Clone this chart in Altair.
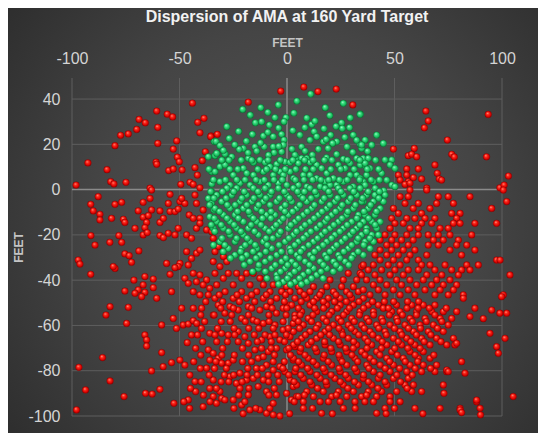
import altair as alt
import pandas as pd

TITLE = "Dispersion of AMA at 160 Yard Target"
AXIS_TITLE = "FEET"
x_ticks = [-100, -50, 0, 50, 100]
y_ticks = [-100, -80, -60, -40, -20, 0, 20, 40]

# ---------------- green shots (feet) ----------------
green_top = [
    (-36.6, 14.5), (-35, 7.9), (-35, 2.5), (-33.8, 21.2), (-33.5, 15),
    (11, 42.2), (-12.2, 36.2), (-4, 37.4), (26.2, 38.1), (34, 33.4), (-5.6, 31.8), (-0.5, 31.8),
    (-1.4, 30), (-14.7, 29.5), (-11.8, 30), (-8.2, 28.5), (11.5, 28.8), (13, 30.3), (25.4, 29.5),
    (25.7, 27), (-28, 27.8), (-16.1, 24.4), (-11, 23.7), (-6.4, 23.4), (-2.5, 24.4), (-1.4, 21.9),
    (-1.7, 19.7), (6, 24.1), (12.6, 25.6), (13.8, 23.4), (10.7, 21.9), (20.3, 24.1), (23.1, 21.2),
    (26.9, 23.1), (30.8, 24.1), (34, 20), (-33, 21.2), (-31.2, 19.4), (-20.3, 18.2), (-22.2, 17.8),
    (-14.9, 18.9), (-14.1, 17), (-10.6, 18.9), (-6.4, 18.9), (-6, 16.3), (-2.5, 16.7), (6.8, 18.9),
    (8.4, 17), (4.5, 14.1), (6.8, 13.8), (9.2, 13.8), (14.6, 17.9), (16.9, 21.2), (21.2, 20.4),
    (23.1, 15.6), (26.2, 13.5), (30.6, 16.5), (34.7, 18.2), (-32.7, 16), (-28.8, 15.7), (-25.7, 14.5),
    (-18, 13.8), (-15.6, 12), (-12.6, 13.1), (-10.2, 12), (-7.9, 10.1), (-4.8, 11.2), (-3.2, 7.9),
    (-0.9, 12.3), (1.4, 12), (3.7, 15.3), (5.3, 11.6), (10.7, 12), (13.8, 10.9), (16.1, 9.4),
    (18.5, 7.2), (21.6, 5), (23.9, 10.9), (27, 9.4), (29.3, 11.6), (32.4, 13.8), (35.5, 10.9),
    (-33.5, 7.9), (-31.2, 10.1), (-28.8, 10.9), (-25, 6.4), (-20.3, 9.4), (-18.7, 7.2), (-15.6, 6.4),
    (-11, 7.9), (-6.4, 6.4), (-1.7, 6.4), (1.4, 7.9), (3, 5), (7.6, 6.4), (10.7, 6.4), (13.8, 5),
    (17.7, 3.5), (20, 2), (26.2, 3.5), (29.3, 6.4), (32.4, 6.4), (35.5, 3.5), (-31.2, 3.5),
    (-26.5, 2), (-21.9, 2.8), (-17.2, 2), (-12.6, 3.5), (-8.7, 2), (-4, 2.8), (-0.1, 2), (5.3, 2),
    (9.2, 1.3), (15.4, 1.3), (23.1, 2), (30.8, 1.3),
]
green_top_fill = [
    (-29.6, 17.3), (-24.3, 19.8), (-18.1, 16.2), (-12.3, 20.6), (-8.6, 15.2), (-3.8, 19.1), (2.3, 17.9),
    (11.8, 15.3), (18.4, 14.1), (19.1, 18.2), (27.9, 18.9), (32.4, 21.8), (37.5, 16.9),
    (-26.9, 22.6), (-22.5, 25.7), (-18.9, 21.4), (-8.9, 25.3), (-3.9, 27.2), (2.7, 26.1), (8.3, 27.4),
    (17.2, 26.9), (22.8, 27.9), (29.1, 27.4), (18.2, 22.2),
    (-17.1, 32.9), (-8.9, 34.1), (3.2, 33.8), (9.2, 31.6), (19.9, 32.7), (29.4, 31.7), (4.6, 39.1),
    (17.8, 36.2), (-20.6, 35.4),
]
green_right = [
    (34, 33.2), (41.7, 24.1), (36.3, 21.9), (34.7, 19.7), (39.4, 19.7), (44.8, 20.4), (35.5, 13.8),
    (37.8, 13.8), (34, 10.9), (36.3, 11.6), (38.6, 9.4), (45.6, 13.1), (48.7, 13.1), (47.9, 10.9),
    (50.2, 9.4), (44, 7.2), (37, 6.4), (34, 5), (40.2, 3.5), (36.3, 2), (46.4, 4.2), (48.7, 2),
    (50.2, 1.3), (41, 0.6), (45, -0.5), (37, -2.4), (40.9, -2.4), (45.6, -2.4), (35.5, -5.3),
    (40.2, -5.3), (44.8, -5.3), (37.8, -8.3), (43.3, -8.3), (36.3, -11.2), (40.9, -11.2),
    (39.4, -14.2), (43.3, -14.2), (37, -17.1), (41.7, -17.1), (39.4, -20), (42.5, -20),
    (36.3, -23), (40.2, -23), (38.6, -26), (35.5, -28.9),
    (-36.6, -3.9), (-35.1, -6.1), (-35.9, -12), (-34.3, -17.1), (-35.1, -0.9), (-34, -9),
]
green_rows = [
    (0.6, [-28, -23.4, -15.6, -10.2, -4, 3, 10.7, 17.7, 23.9, 29.3, 34]),
    (-2.4, [-32.7, -25.7, -18.8, -12.6, -7.9, -0.2, 6, 13.8, 20, 26.2, 32.4]),
    (-5.3, [-30.4, -21.9, -16.4, -11, -4.8, 2.2, 9.2, 16.1, 22.3, 28.5, 34.7]),
    (-8.3, [-33.5, -26.5, -20.3, -14.1, -2.5, 4.5, 11.5, 18.5, 24.7, 30.9]),
    (-11.2, [-29.6, -24.2, -17.2, -9.5, -5.6, 0.6, 7.6, 14.6, 20.8, 27.7, 33.2]),
    (-14.2, [-32.7, -26.5, -20.3, -14.1, -3.3, 3.7, 10.7, 17.7, 23.9, 30.1, 35.5]),
    (-17.1, [-29.6, -23.4, -18, -10.2, -6.4, 0.6, 6.8, 13.8, 20, 26.2, 32.4]),
    (-20, [-26.5, -20.3, -13.3, -4, 3, 9.2, 16.1, 22.3, 29.3, 34.7]),
    (-23, [-31.2, -24.2, -17.2, -11, -0.9, 5.3, 12.3, 18.5, 25.4, 32.4]),
    (-26, [-27.3, -21.1, -14.1, -7.1, 1.4, 7.6, 14.6, 21.6, 28.5]),
    (-28.9, [-24.2, -18.8, -12.6, -4.8, 4.5, 10.7, 17.7, 23.9, 30.9]),
    (-31.8, [-17.2, -10.2, -2.5, 2.2, 8.4, 15.4, 21.6, 27]),
    (-34.8, [-13.3, -7.1, -0.9, 5.3, 12.3, 18.5, 24.7]),
    (-37.7, [-4.8, 1.4, 7.6, 13.8]),
    (-40.7, [-1.7, 3.7, 9.2]),
]
green_fill_rows = [
    (4.3, [-34.2, -28.6, -23.4, -19.5, -14.4, -10.5, -6.1, -2.2, 3.9, 7.9, 11.9, 15.8, 19.4, 24.4, 28, 33.8, 39.1, 43]),
    (9, [-36.3, -26.6, -22.9, -13.6, -9.5, -5.3, -0.8, 4.1, 8.6, 12.2, 20.4, 25, 31.2, 37.3, 42.6]),
    (13, [-30.3, -27, -21.3, -16.4, -8.8, -3.1, 2.7, 8.2, 12.1, 17.4, 20.9, 28.1, 33.9, 41.2]),
    (-0.9, [-35.5, -30, -24.8, -19.9, -13.5, -7.2, -1.3, 4.9, 8.1, 13, 19.4, 25.1, 31, 37.8, 43]),
    (-3.8, [-34, -28.3, -21, -15.4, -9.8, -3.5, 1.2, 7.4, 11.2, 17.3, 23.5, 29.6, 35.2, 42.7]),
    (-6.8, [-36, -27.8, -24.1, -18.7, -13.2, -7.9, -0.8, 5.9, 12.8, 19.9, 25.7, 31.8, 38.9]),
    (-9.7, [-31.4, -23, -17.8, -11.8, -7.4, -1, 2.6, 9.4, 16.3, 22.6, 28.3, 35.8, 41.6]),
    (-12.7, [-33.8, -27.9, -22.6, -15.6, -11.4, -7.5, -1.8, 5.4, 12.6, 18.8, 25.6, 32.5, 38]),
    (-15.6, [-35.2, -30.6, -24.6, -16.7, -12.1, -5, 1.8, 8.4, 15.4, 21.8, 28, 33.9, 41]),
    (-18.5, [-33.6, -27.1, -21.4, -15.1, -8.3, -3, 4.4, 11.1, 17.7, 24.6, 30.7, 36.9]),
    (-21.5, [-30.2, -23.4, -18.5, -9.7, -6.6, 0.9, 7.6, 14.2, 20.7, 27.1, 33.1, 38.5]),
    (-24.5, [-34.2, -28.9, -19.4, -14.8, -9.2, -3.7, 3.6, 10.1, 16.8, 23.1, 30.1, 35.7]),
    (-27.4, [-29.7, -21.6, -15.8, -9.9, -2.6, 1.8, 6.3, 12.8, 19.9, 26.4, 33.1]),
    (-30.3, [-26.3, -20.9, -14.4, -7.7, -0.5, 5.7, 12, 18.6, 24.6, 30]),
    (-33.3, [-19.9, -13.1, -5.4, 0.3, 4, 10.4, 16.9, 22.8, 28.7]),
    (-36.2, [-16, -10.1, -3, 3.5, 10, 15.8, 21.5]),
    (-39.2, [-9.3, -4.6, 0.2, 5.8, 11.4, 16.8]),
    (-41.8, [-3.9, 1.6, 6.7]),
]

# ---------------- red shots (feet) ----------------
red_upper = [
    (-44, 38.2), (-60.6, 34.7), (-55.7, 33.3), (-53.2, 32.1), (-68.8, 31), (-65.9, 29.5), (-38.6, 31.5),
    (-41.5, 29.7), (-60.1, 27.5), (-69.9, 26.6), (-73.8, 24.6), (-77.4, 24), (-40.5, 25.1),
    (-35.3, 23.7), (-80, 19.4), (-60.1, 20.4), (-51.3, 21.5), (-52.9, 17.9), (-38, 16.7), (-51, 14.3),
    (-50.1, 12.3), (-39.4, 12.8), (-60.9, 12.1), (-60.6, 11.2), (-92.6, 11.8), (-83.7, 8.8),
    (-42.8, 9.7), (-55, 8.4), (-52.9, 9.1), (-48.8, 8.7), (-41.7, 6.4), (-82, 3.5), (-80.5, 2.5),
    (-74.9, 3.2), (-98.1, 2), (-49.4, 2.3), (-45.1, 3.2), (-43.6, 2.3), (-40.5, 0.8), (-63.7, 0.6),
    (-2.9, 43.5), (7.8, 45.3), (14.4, 43.3), (22.9, 44.4), (-18, 38.6), (30.6, 37.4), (-35.5, 23.4),
    (-32.4, 24.4),
    (64.6, 34.7), (65.7, 30.3), (63.9, 27.3), (93.6, 33.2), (74.6, 21.9), (49.5, 17.9), (59.2, 18.2),
    (56.4, 15), (58, 15.6), (60.3, 14.5), (76.6, 15.6), (77.8, 14.4), (92.8, 14.5), (55.7, 9.1),
    (61.1, 9.1), (68.8, 10.9), (69.9, 7.2), (70.8, 4.7), (71.9, 4.2), (51.8, 6.4), (55.7, 6.4),
    (52.6, 4.2), (56.4, 3.5), (58.8, 5.3), (62.6, 4.7), (54.9, 2.3), (57.2, 2.8), (65, 0.6),
    (99, 0.8), (103, 6), (101, 2),
]
red_left = [
    (-63, -0.2), (-63.7, -3.9), (-66.9, -5.6), (-87.8, -3.1), (-91.3, -6.5), (-90.1, -9.4), (-87, -10.9),
    (-87, -13.4), (-80, -6.5), (-76.9, -5.6), (-81.6, -12.7), (-76.1, -13.1), (-75.4, -14.5),
    (-69.2, -9.4), (-66.9, -12.2), (-63, -9), (-64.5, -11.5), (-65.3, -14.5), (-66.1, -16.8),
    (-66.9, -20), (-65, -19), (-70.7, -17.1), (-59.1, -9.4), (-59.1, -14.5), (-57.5, -12.7),
    (-55.2, -6.1), (-54.4, -9.7), (-52.1, -9.7), (-50.6, -8.6), (-49.8, -5.3), (-47.5, -6.1),
    (-54.4, -2.1), (-49, -3.9), (-42.8, -2.4), (-42.1, -6.1), (-45.5, -11.2), (-43.6, -12.7),
    (-40.5, -12.7), (-39, -9), (-42.1, -17.1), (-40.5, -14.9), (-37.4, -17.8), (-50.6, -17.1),
    (-46.7, -20), (-44.4, -21.5), (-59.1, -20.3), (-57.5, -21.2), (-55.2, -19.3), (-52.1, -20),
    (-91.2, -20.3), (-89.3, -24.5), (-82.4, -23.3), (-78.2, -20.3), (-76.9, -23.3), (-68.9, -27.1),
    (-75.4, -28.4), (-73.4, -29.2), (-72.3, -32.1), (-97.1, -31.1), (-96.3, -32.9), (-91.3, -37.4),
    (-80, -34.8), (-80.8, -34), (-46.7, -27.4), (-42.1, -28.1), (-40.5, -26.7), (-44.4, -30.4),
    (-49.8, -32.6), (-50.6, -34), (-45.9, -33.3), (-56, -32.6), (-54.4, -37.4), (-52.1, -34.5),
    (-43.6, -37), (-40.5, -37.7), (-37.4, -39.9), (-47.5, -39.2), (-45.9, -41.4), (-42.1, -40.7),
    (-39, -42.1), (-35.9, -43.6), (-43.6, -45.1), (-40.5, -46.5), (-36.6, -46.5), (-66.1, -38.4),
    (-62.2, -39.5), (-71.2, -40), (-66.9, -42.1), (-69.2, -44.3), (-70.7, -45.8), (-66.1, -45.4),
    (-62.2, -43.3), (-75.4, -44.8), (-67.6, -47.3), (-60.6, -48), (-53.7, -45.1),
]
red_center_rows = [
    (-18.6, [-35]), (-21.5, [-34.3]), (-25.2, [-31.9, -28.8]), (-27.4, [-33.5]), (-29.6, [-29.6]),
    (-31.8, [-34.3, -28]), (-34, [-31.2, 34.7]), (-37, [-33.5, -27.3, -23.4, -18.8, -15.7, 28.5, 34]),
    (-39.2, [-29.6, -21.1, -12.6, -9.5]), (-39.9, [20, 26.2, 32.4]),
    (-42.1, [-32.7, -25, -17.2, -11, -6.4]), (-42.9, [-0.2, 5.3, 12.3, 18.5, 25.4, 30.9]),
    (-45.1, [-28.8, -21.1, -14.1, -7.9, -2.5, 1.4, 6.1, 10.7, 16.1, 21.6, 27.7, 33.2]),
    (-48, [-33.5, -25, -18.8, -11, -4.8, 3.7, 9.2, 13.8, 19.2, 24.7, 30.1, 35.5]),
]
red_right_rows = [
    (-0.2, [57.2, 65, 100.6]), (-3.1, [52.6, 56.4, 70.4, 75, 85.1]), (-5.3, [102.2]),
    (-6.1, [54.9, 61.1, 69.6, 77.4]), (-8.3, [49.5, 58.7, 66.5, 95.2]), (-10.5, [51.8, 62.6, 76.6, 80.5]),
    (-12.7, [48.7, 55.7, 59.5, 64.2, 68.8, 78.9]), (-14.9, [50.2, 54.1, 62.6, 67.3, 77.4, 80.5, 87.4, 97.5]),
    (-17.1, [47.9, 57.2, 61.1, 71.2, 75]), (-20, [45.6, 50.2, 55.7, 61.1, 65.7, 70.4, 75.8, 85.9]),
    (-22.3, [43.3, 48.7, 53.3, 58.7, 68.1, 72.7, 79.7]), (-24.5, [46.4, 51, 56.4, 65.7, 70.4, 78.9, 83.6]),
    (-26.7, [43.3, 48.7, 54.1, 59.5, 75.8, 87.4]), (-28.9, [40.9, 46.4, 51.8, 57.2, 65, 81.2]),
    (-31.1, [43.3, 49.5, 55.7, 61.1, 97.5, 99.1]), (-33.3, [35.5, 40.2, 47.1, 52.6, 62.6, 66.5, 73.5, 83.6, 89]),
    (-35.5, [37.8, 44, 50.2, 56.4, 61.1, 68.8, 76.6, 81.2, 85.1]), (-37.7, [34.7, 40.9, 47.9, 54.1, 65, 72, 79.7, 103.7]),
    (-39.9, [37, 43.3, 51, 57.2, 63.4, 69.6, 75.8]), (-42.1, [40.2, 46.4, 53.3, 60.3, 67.3, 72.7, 78.9]),
    (-44.3, [35.5, 42.5, 49.5, 56.4, 64.2, 71.2, 77.4]), (-46.5, [38.6, 45.6, 52.6, 59.5, 68.8, 75, 82, 100.6]),
]
red_lower_left = [
    (-82.3, -51.7), (-73.8, -52), (-84.2, -55.4), (-74.6, -59.1), (-66.1, -64.2), (-65.3, -66.4),
    (-65.3, -69.1), (-58.3, -59.8), (-58.3, -72), (-85.8, -74.2), (-96.8, -78.5), (-82.3, -84.5),
    (-93.7, -88.5), (-75.8, -91.4), (-97.9, -97.3), (-63, -80.1), (-57.6, -78.2), (-53.7, -76.4),
    (-49.8, -75.3), (-47.5, -77.5), (-65.8, -90), (-62.7, -90.3), (-59.1, -88.2), (-52.6, -94.4),
    (-45.9, -92.9), (-42.8, -84.8), (-42.5, -89.2), (-51.4, -61.3), (-48.3, -59.8), (-45.9, -59.4),
    (-43.6, -57.9), (-42, -59.1), (-52.9, -56.9), (-49, -52.4), (-43.6, -52.4), (-39.7, -52.4),
    (-34.3, -55.4), (-44.4, -64.2), (-46.4, -67.6), (-39, -95.9), (-32.8, -94.4), (-30.4, -92.2),
    (-28.9, -92.9), (-35.9, -63.5), (-33.5, -64.2), (-30.4, -63.5), (-27.3, -64.2), (-36.6, -70.8),
    (-34.3, -72.3), (-35.9, -75.3), (-32, -74.5), (-37.4, -78.9), (-34.3, -84.1), (-35.9, -87.8),
    (-31.2, -89.2), (-34.3, -91.4), (-32, -51), (-28.9, -54.6), (-26.5, -51.7), (-22.7, -53.2),
    (-21.1, -56.9), (-18, -51.7), (-22.7, -62.7), (-19.6, -65), (-18, -67.9), (-14.9, -70.8),
    (-13.4, -74.5), (-11, -73.8), (-8.7, -71.6), (-9.5, -77.5), (-14.2, -79), (-15.7, -83.4),
    (-18.8, -84.1), (-21.9, -81.1), (-23.5, -85.6), (-26.6, -82.6), (-27.3, -76.7), (-25, -75.3),
    (-30.4, -76.7), (-21.9, -87.8), (-18, -90.7), (-25, -92.9), (-21.1, -95.1), (-17.3, -97.3),
    (-12.6, -97.3), (-9.5, -98.8), (-6.4, -99.5), (-3.3, -100), (-8, -96.6), (-6.4, -94.4),
    (-4.9, -90.7), (-9.5, -89.2), (-13.4, -87), (-11, -84.1), (-8.7, -81.9), (-6.4, -79.7),
    (-3.3, -78.2), (-1, -80.4), (1.4, -84.1), (2.9, -87), (-0.2, -90), (2.1, -92.9), (4.5, -91.4),
    (-12.6, -53.2), (-9.5, -51.7), (-4.9, -54.6), (-1.8, -52.4), (1.4, -51), (3.7, -55.4),
    (-15.7, -57.6), (-11, -59.1), (-5.6, -59.8), (-1.8, -62), (2.9, -59.1), (1.4, -65), (-3.3, -66.4),
    (-8, -65), (-11.8, -66.4), (-4.9, -70.1), (-0.2, -70.8), (3.7, -69.4), (2.9, -75.3),
]
red_lower_rows = [
    (-51, [2.2, 10.7, 18.5, 24.7, 30.9, 37.8, 42.5, 51, 58, 63.4, 68.8]),
    (-53.9, [6.8, 13.8, 20.8, 27.8, 34, 40.2, 48.7, 52.6, 60.3, 67.3, 72.7, 78.9]),
    (-56.9, [3.7, 9.9, 16.9, 23.9, 30.1, 37.1, 44, 51, 57.2, 64.2, 71.2, 76.6]),
    (-59.8, [7.6, 14.6, 21.6, 28.5, 34.7, 41.7, 47.9, 54.9, 61.9, 68.1, 75]),
    (-62.7, [3, 10.7, 17.7, 25.4, 31.6, 38.6, 45.6, 52.6, 58.8, 65.7, 72.7]),
    (-65.7, [6.8, 13.8, 21.6, 28.5, 36.3, 42.5, 49.5, 55.7, 62.6, 69.6, 77.4]),
    (-68.6, [3, 9.9, 17.7, 24.7, 32.4, 39.4, 46.4, 53.3, 59.5, 66.5, 74.3]),
    (-71.6, [6.1, 13.8, 20.8, 27.8, 34.7, 41.7, 48.7, 57.2, 63.4]),
    (-74.5, [3, 9.9, 16.9, 24.7, 31.6, 38.6, 46.4, 54.1, 61.1, 66.5]),
    (-77.5, [6.8, 13.8, 20.8, 27.8, 37.1, 43.3, 49.5, 57.2, 63.4, 69.6]),
    (-80.4, [3.7, 10.7, 17.7, 24.7, 32.4, 40.2, 47.9, 55.7, 62.6, 68.8, 74.3]),
    (-83.4, [7.6, 15.4, 22.3, 28.5, 35.5, 42.5, 49.5, 56.4]),
    (-86.3, [4.5, 11.5, 18.5, 26.2, 33.2, 39.4, 46.4, 54.9, 58.8, 72.7]),
    (-89.2, [9.2, 16.9, 23.9, 30.9, 37.8, 44, 51, 58, 62.6]),
    (-91.4, [5.3, 12.3, 20.8, 27.8, 34.7, 41.7, 47.9]),
    (-93.7, [7.6, 15.4, 24.7, 31.6, 40.2, 47.9, 52.6, 88.2]),
    (-96.6, [7.6, 26.2, 45.6, 59.5, 71.2, 80.5, 89.8]),
    (-98.8, [16.1, 41.7]),
]
red_fill_rows = [
    (-46.5, [-31.5, -23.2, -16.4, -9.6, -0.7, 8, 15.2, 22.8, 29.2]),
    (-49.5, [-37.8, -29.9, -22.1, -15, -7.6, -1.2, 6.6, 12.3, 16.9, 22.1, 27.6, 33.5, 39.8, 45.3, 49.6, 56.1, 61.2]),
    (-52.4, [-30.8, -24.9, -16.4, -6.9, -0.1, 5.3, 12.9, 17, 23.4, 29, 35.6, 44.8, 47.2, 55.8, 61, 66.2, 74.1]),
    (-55.4, [-40.1, -33.9, -25.7, -17.9, -8.4, -0.4, 6.1, 12.1, 19.6, 26.3, 33.7, 40.3, 47.6, 53.7, 60.2, 68.8]),
    (-58.3, [-38.3, -30.6, -26.4, -19.4, -13.9, -8.3, -1.8, 5.3, 11.4, 18.4, 25.2, 31.3, 38.1, 44.6, 51.4, 58.3, 64.8, 72]),
    (-61.3, [-39.8, -32.3, -24.6, -17.8, -13.1, -6.4, 0.6, 5.8, 13.6, 19.4, 24.2, 29.9, 36, 42.7, 50, 56.5, 62.1, 70]),
    (-64.2, [-41.6, -24.3, -15.2, -10.2, -5.6, -0.3, 8.6, 15.7, 19.8, 25.9, 33.4, 39.9, 46.2, 53.4, 60.2, 66.9]),
    (-67.2, [-39.2, -32.7, -27.7, -22.7, -13.8, -7.3, -1.1, 4.9, 11.3, 17.5, 24, 31, 37.6, 44.3, 51.8, 57.6, 63.8, 71.6]),
    (-70.1, [-42.5, -29.9, -20.7, -11.8, -7.4, 0.8, 6.4, 13.1, 20.4, 27.3, 30.8, 37.2, 43.9, 50.1, 56.2, 61.9]),
    (-73.1, [-40.1, -30.3, -24.5, -17.8, -5.8, 1.6, 8.4, 17.3, 24.2, 30.2, 36.3, 43.2, 51.3, 59.6, 68.3]),
    (-76, [-43.4, -33.1, -20.7, -16.5, -6.4, -1.2, 5.4, 12.2, 19.2, 25.6, 32.9, 40.4, 47.7, 55, 60.8]),
    (-79, [-40.3, -33.7, -28.2, -18.2, -11.5, -1.9, 4.1, 9.6, 16.9, 24.2, 31.5, 38.1, 45.7, 52.4, 59.6, 66.8]),
    (-81.9, [-45.2, -36.2, -29.1, -24.8, -18.6, -13.8, -4.3, 0.8, 6.4, 13.9, 20.5, 27.3, 35.6, 43.3, 51.1, 58.3]),
    (-84.9, [-39.9, -30.6, -27.1, -20.9, -8.5, -3.6, 3.3, 10.7, 18.1, 24.8, 31.4, 37.9, 45.6, 52.8]),
    (-87.8, [-44.9, -32.8, -17.7, -5.9, 14.2, 28.3, 42.3, 55.9]),
    (-90.8, [-38.9, -22.4, -8.4, 8.1, 23, 37]),
    (-93.7, [-48, -35.8, -19.6, 3.4, 19.3, 36.2]),
    (-96.6, [-45.3, -24.7, -14.5, 11.9, 31.7, 50]),
    (-99, [-20.4, 1.2, 21.1, 46.1, 63.2]),
]
red_lower_right = [
    (82, -48), (87.4, -52.4), (85.1, -56.1), (91.3, -57), (95.2, -53.2), (99.8, -47.3), (99, -54.6),
    (102.2, -54.6), (94.4, -63.5), (101.4, -65.7), (97.5, -69.4), (98.3, -72.3), (81.2, -76),
    (74.3, -79.7), (82.8, -81.1), (73, -90), (88.2, -93), (105.2, -91.4), (80.5, -97.3), (81.2, -98.5),
    (90, -99.5), (78.1, -68.6), (78.9, -67.9), (75, -80.4),
]


def expand(rows):
    return [(x, y) for y, xs in rows for x in xs]


green_pts = green_top + green_top_fill + green_right + expand(green_rows) + expand(green_fill_rows)
red_pts = (red_upper + red_left + expand(red_center_rows) + expand(red_right_rows)
           + red_lower_left + expand(red_lower_rows) + expand(red_fill_rows) + red_lower_right)

df_green = pd.DataFrame(green_pts, columns=["x", "y"])
df_red = pd.DataFrame(red_pts, columns=["x", "y"])

FONT = "Liberation Sans"
x_scale = alt.Scale(domain=[-100, 100], nice=False, zero=False)
y_scale = alt.Scale(domain=[-100, 49.3], nice=False, zero=False)

x_axis = alt.Axis(orient="top", values=x_ticks, grid=False, domain=False, ticks=False, tickSize=0,
                  labelPadding=15, labelBaseline="alphabetic", labelFontSize=16, labelColor="#d4d4d4",
                  labelFont=FONT, labelFlush=False, labelOverlap=False, labelExpr="datum.value + ''",
                  title=AXIS_TITLE, titleFont=FONT, titleFontSize=12, titleFontWeight="bold",
                  titleColor="#c4c4c4", titleX=215, titleY=-32, titleBaseline="alphabetic",
                  titleAlign="center", zindex=1)
y_axis = alt.Axis(orient="left", values=y_ticks, grid=False, domain=False, ticks=False, tickSize=0,
                  labelPadding=12, labelFontSize=16, labelColor="#d4d4d4", labelFont=FONT,
                  labelFlush=False, labelOverlap=False, labelExpr="datum.value + ''",
                  title=AXIS_TITLE, titleFont=FONT, titleFontSize=12, titleFontWeight="bold",
                  titleColor="#c4c4c4", titleX=-54, titleY=169, titleAngle=270,
                  titleBaseline="middle", titleAlign="center", zindex=1)

bg_grad = alt.RadialGradient(
    gradient="radial",
    stops=[alt.GradientStop(color="#575757", offset=0),
           alt.GradientStop(color="#454545", offset=0.5),
           alt.GradientStop(color="#2a2a2a", offset=1)],
    x1=0.53, y1=0.5, r1=0, x2=0.53, y2=0.5, r2=0.72)

background = alt.Chart(pd.DataFrame({"k": [0]})).mark_rect(fill=bg_grad).encode(
    x=alt.value(-64), x2=alt.value(466), y=alt.value(-70), y2=alt.value(355))

title_layer = alt.Chart(pd.DataFrame({"t": [TITLE]})).mark_text(
    font=FONT, fontSize=16, fontWeight="bold", color="#f2f2f2", align="center", baseline="middle"
).encode(text="t:N", x=alt.value(215), y=alt.value(-61))

vgrid_vals = [v for v in x_ticks if v != 0]
hgrid_vals = [v for v in y_ticks if v != 0]

vgrid = alt.Chart(pd.DataFrame({"x": vgrid_vals})).mark_rule(color="#5e5e5e", strokeWidth=1).encode(
    x=alt.X("x:Q", scale=x_scale, axis=x_axis))
hgrid = alt.Chart(pd.DataFrame({"y": hgrid_vals})).mark_rule(color="#5e5e5e", strokeWidth=1).encode(
    y=alt.Y("y:Q", scale=y_scale, axis=y_axis))
vzero = alt.Chart(pd.DataFrame({"x": [0]})).mark_rule(color="#8a8a8a", strokeWidth=1.5).encode(
    x=alt.X("x:Q", scale=x_scale, axis=x_axis))
hzero = alt.Chart(pd.DataFrame({"y": [0]})).mark_rule(color="#8a8a8a", strokeWidth=1.5).encode(
    y=alt.Y("y:Q", scale=y_scale, axis=y_axis))


def ball(light, mid, base, dark):
    return alt.RadialGradient(
        gradient="radial",
        stops=[alt.GradientStop(color=light, offset=0),
               alt.GradientStop(color=mid, offset=0.3),
               alt.GradientStop(color=base, offset=0.7),
               alt.GradientStop(color=dark, offset=1)],
        x1=0.38, y1=0.3, r1=0, x2=0.5, y2=0.5, r2=0.6)


red_layer = alt.Chart(df_red).mark_circle(
    size=46, opacity=1, fill=ball("#ffb0a0", "#ff2b1c", "#d80000", "#780000"),
    stroke="#700000", strokeWidth=0.3).encode(
    x=alt.X("x:Q", scale=x_scale, axis=x_axis),
    y=alt.Y("y:Q", scale=y_scale, axis=y_axis))
green_layer = alt.Chart(df_green).mark_circle(
    size=46, opacity=1, fill=ball("#c0ffd8", "#3ee488", "#14b455", "#07602c"),
    stroke="#06582a", strokeWidth=0.3).encode(
    x=alt.X("x:Q", scale=x_scale, axis=x_axis),
    y=alt.Y("y:Q", scale=y_scale, axis=y_axis))

chart = alt.layer(background, vgrid, hgrid, vzero, hzero, red_layer, green_layer, title_layer).properties(
    width=430, height=338,
    autosize=alt.AutoSizeParams(type="none"),
    padding={"left": 64, "top": 70, "right": 36, "bottom": 17},
).configure(background="#2f2f2f").configure_view(stroke=None)

chart.save("out.html", embed_options={"renderer": "svg", "actions": False})
